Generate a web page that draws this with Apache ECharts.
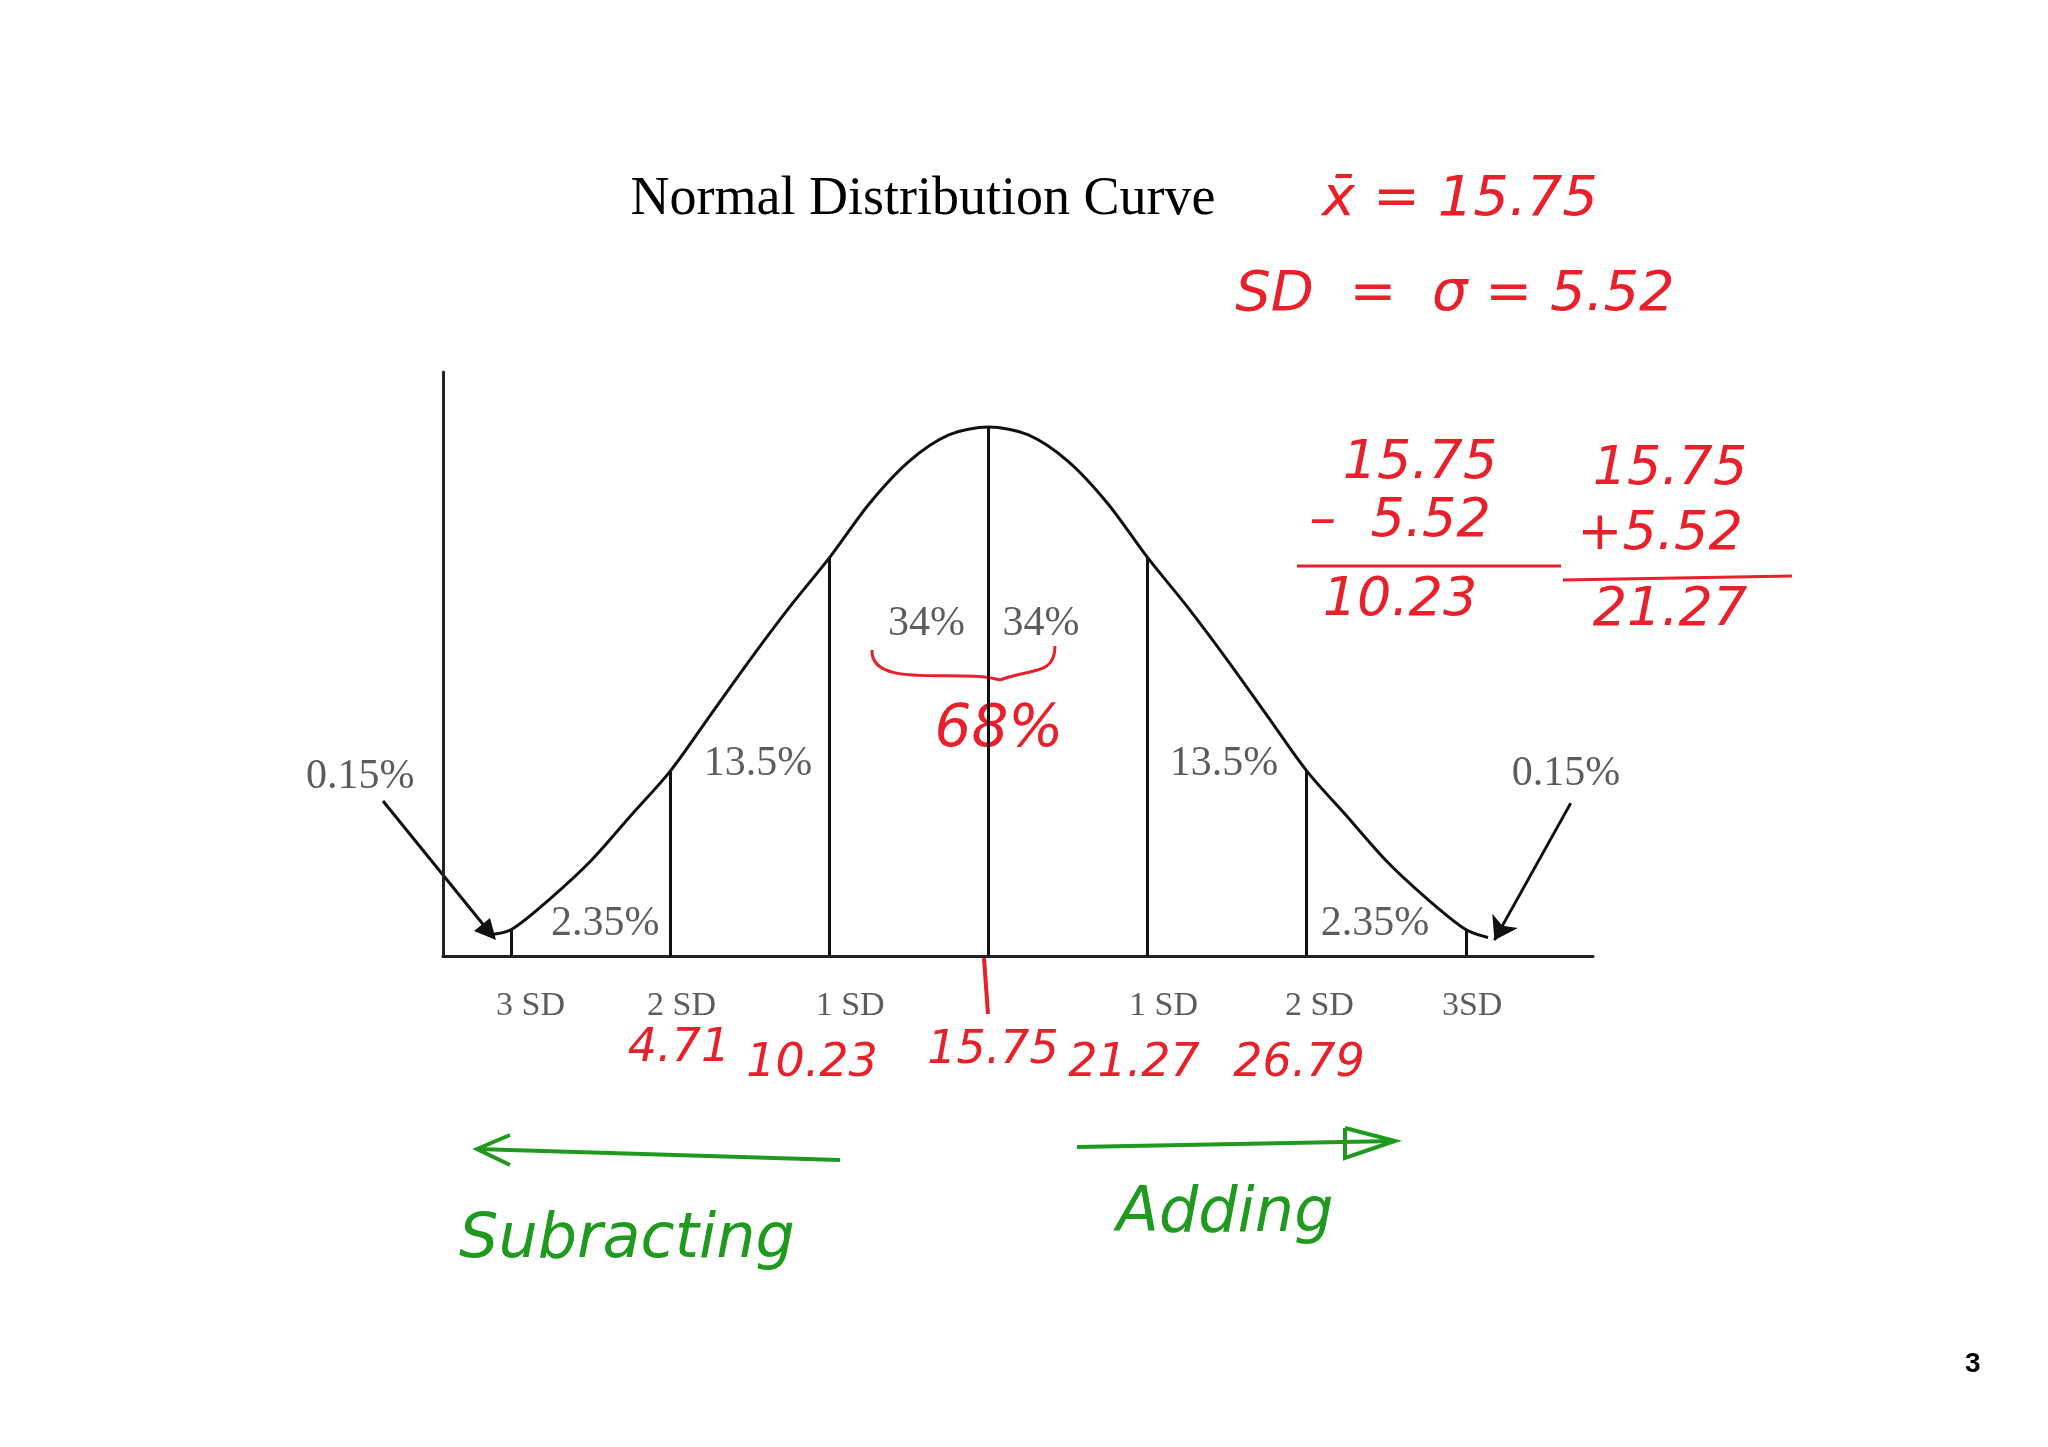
<!DOCTYPE html>
<html>
<head>
<meta charset="utf-8">
<script src="https://cdn.jsdelivr.net/npm/echarts@6/dist/echarts.min.js"></script>
<style>html,body{margin:0;background:#fff}#container{width:2048px;height:1447px}</style>
</head>
<body>
<div id="container"></div>
<script>
// curve: x in SD units, y relative to peak
var curveX = [-3.14, -3, -2.75, -2.5, -2.25, -2, -1.75, -1.5, -1.25, -1, -0.75, -0.5, -0.25, 0,
              0.25, 0.5, 0.75, 1, 1.25, 1.5, 1.75, 2, 2.25, 2.5, 2.75, 3, 3.14];
var curveY = [0.04, 0.05, 0.11, 0.18, 0.265, 0.35, 0.455, 0.56, 0.66, 0.753, 0.855, 0.935, 0.985, 1,
              0.985, 0.935, 0.855, 0.753, 0.66, 0.56, 0.455, 0.35, 0.265, 0.18, 0.11, 0.05, 0.035];
var sdLines = [-3, -2, -1, 0, 1, 2, 3];
var sdHeights = [0.05, 0.35, 0.753, 1, 0.753, 0.35, 0.05];
var pctLabels = ['0.15%', '2.35%', '13.5%', '34%', '34%', '13.5%', '2.35%', '0.15%'];
var pctX = [-3.95, -2.41, -1.45, -0.39, 0.33, 1.48, 2.43, 3.63];
var pctY = [0.338, 0.06, 0.363, 0.627, 0.627, 0.363, 0.06, 0.345];
var tickLabels = ['3 SD', '2 SD', '1 SD', '1 SD', '2 SD', '3SD'];
var tickX = [-2.88, -1.93, -0.87, 1.1, 2.08, 3.04];
var valueLabels = ['4.71', '10.23', '15.75', '21.27', '26.79'];

var dom = document.getElementById('container');
var myChart = echarts.init(dom, null, { renderer: 'canvas' });

var serif = '"Liberation Serif", "DejaVu Serif", serif';
var red = '#e8202a', green = '#1f9a1f';

function txt(x, y, t, color, size) {
    return { type: 'text', x: x, y: y, style: { text: t, fill: color, font: 'italic ' + size + 'px "DejaVu Sans"', align: 'center', verticalAlign: 'middle' } };
}

var option = {
    animation: false,
    backgroundColor: '#fff',
    title: {
        text: 'Normal Distribution Curve', left: 918, top: 168, textAlign: 'center',
        textStyle: { fontFamily: serif, fontWeight: 'normal', fontSize: 54, color: '#000' }
    },
    grid: { left: 443, right: 455, top: 372, bottom: 491 },
    xAxis: {
        type: 'value', min: -3.43, max: 3.8,
        axisLine: { lineStyle: { color: '#222', width: 3 } },
        axisTick: { show: false }, axisLabel: { show: false }, splitLine: { show: false }
    },
    yAxis: {
        type: 'value', min: 0, max: 1.104,
        axisLine: { show: true, onZero: false, lineStyle: { color: '#222', width: 3 } },
        axisTick: { show: false }, axisLabel: { show: false }, splitLine: { show: false }
    },
    series: [
        {
            type: 'line', smooth: 0.3, symbol: 'none', clip: false,
            lineStyle: { color: '#111', width: 3 },
            data: curveX.map(function (x, i) { return [x, curveY[i]]; }),
            markLine: {
                silent: true, symbol: 'none',
                lineStyle: { color: '#111', width: 3, type: 'solid' },
                label: { show: false },
                data: sdLines.map(function (x, i) { return [{ coord: [x, 0] }, { coord: [x, sdHeights[i]] }]; })
                    .concat([
                        [{ coord: [3.66, 0.289], symbol: 'none' }, { coord: [3.18, 0.030], symbol: 'arrow', symbolSize: 22 }]
                    ])
            }
        },
        {
            type: 'scatter', symbolSize: 0, clip: false,
            label: { show: true, formatter: function (p) { return p.data[2]; }, position: 'inside',
                fontFamily: serif, fontSize: 42, color: '#333' },
            data: pctX.map(function (x, i) { return [x, pctY[i], pctLabels[i]]; })
        },
        {
            type: 'scatter', symbolSize: 0, clip: false,
            label: { show: true, formatter: function (p) { return p.data[2]; }, position: 'inside',
                fontFamily: serif, fontSize: 34, color: '#333' },
            data: tickX.map(function (x, i) { return [x, -0.094, tickLabels[i]]; })
        }
    ],
    graphic: [
        // left 0.15% pointer (starts outside the axis range)
        { type: 'line', shape: { x1: 383, y1: 801, x2: 486, y2: 928 }, style: { stroke: '#111', lineWidth: 3 } },
        { type: 'polygon', shape: { points: [[496, 940], [474, 931], [490, 918]] }, style: { fill: '#111' } },
        txt(1460, 200, 'x̄ = 15.75', red, 56),
        txt(1455, 295, 'SD  =  σ = 5.52', red, 56),
        txt(1420, 464, '15.75', red, 54),
        txt(1400, 522, '–  5.52', red, 54),
        { type: 'line', shape: { x1: 1297, y1: 566, x2: 1561, y2: 566 }, style: { stroke: red, lineWidth: 3 } },
        txt(1400, 601, '10.23', red, 54),
        txt(1670, 470, '15.75', red, 54),
        txt(1660, 535, '+5.52', red, 54),
        { type: 'line', shape: { x1: 1563, y1: 580, x2: 1792, y2: 576 }, style: { stroke: red, lineWidth: 3 } },
        txt(1670, 611, '21.27', red, 54),
        { type: 'bezierCurve', shape: { x1: 872, y1: 650, cpx1: 870, cpy1: 690, cpx2: 960, cpy2: 668, x2: 1000, y2: 680 }, style: { stroke: red, lineWidth: 3, fill: null } },
        { type: 'bezierCurve', shape: { x1: 1000, y1: 680, cpx1: 1030, cpy1: 668, cpx2: 1055, cpy2: 676, x2: 1055, y2: 646 }, style: { stroke: red, lineWidth: 3, fill: null } },
        txt(999, 731, '68%', red, 58),
        { type: 'line', shape: { x1: 984, y1: 958, x2: 988, y2: 1014 }, style: { stroke: red, lineWidth: 4 } },
        txt(679, 1049, '4.71', red, 46),
        txt(812, 1064, '10.23', red, 46),
        txt(993, 1051, '15.75', red, 46),
        txt(1134, 1064, '21.27', red, 46),
        txt(1299, 1064, '26.79', red, 46),
        { type: 'line', shape: { x1: 840, y1: 1160, x2: 477, y2: 1149 }, style: { stroke: green, lineWidth: 4 } },
        { type: 'polyline', shape: { points: [[510, 1135], [477, 1149], [510, 1165]] }, style: { stroke: green, lineWidth: 4, fill: null } },
        txt(627, 1241, 'Subracting', green, 62),
        { type: 'line', shape: { x1: 1077, y1: 1147, x2: 1395, y2: 1141 }, style: { stroke: green, lineWidth: 4 } },
        { type: 'polyline', shape: { points: [[1345, 1128], [1395, 1141], [1345, 1158], [1345, 1128]] }, style: { stroke: green, lineWidth: 4, fill: null } },
        txt(1225, 1215, 'Adding', green, 62),
        { type: 'text', x: 1965, y: 1350, style: { text: '3', fill: '#000', font: 'bold 28px "Liberation Sans"' } }
    ]
};

myChart.setOption(option);
window.addEventListener('resize', myChart.resize);
</script>
</body>
</html>
